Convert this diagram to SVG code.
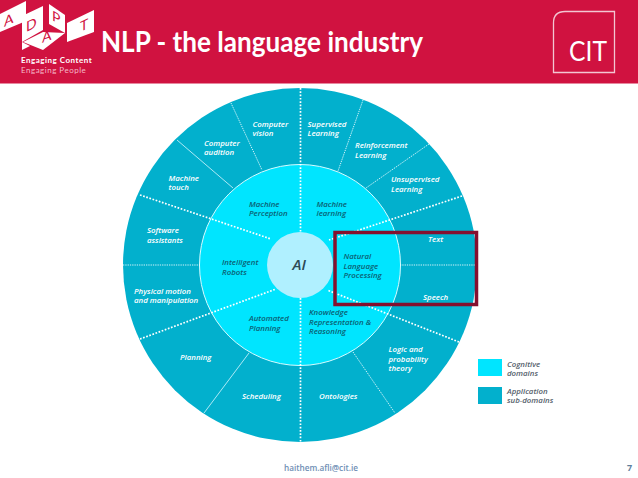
<svg xmlns="http://www.w3.org/2000/svg" width="638" height="478" viewBox="0 0 638 478">
<style>
text{font-family:"Open Sans","Liberation Sans",sans-serif}
.w,.d,.g{font-size:7.85px;font-style:italic;font-weight:600}
.w{fill:#fff}
.d{fill:#0c5f73}
.g{fill:#55606b}
.thick{stroke:#fff;stroke-width:1.7;stroke-dasharray:1.7 1.6;fill:none}
.thin{stroke:#e8fbff;stroke-width:.9;stroke-dasharray:1.3 1;fill:none}
.solid{stroke:#d8f8ff;stroke-width:.8;fill:none}
.logo{fill:#fff}
.lt{fill:#d0123f;font-family:"Lato","Liberation Sans",sans-serif;font-size:14px;font-weight:400}
.lato{font-family:"Lato","Liberation Sans",sans-serif}
</style>
<rect width="638" height="478" fill="#fff"/>
<g id="header">
<rect width="638" height="83.500" fill="#d01240"/>
<polygon class="logo" points="0,14 26,1 26,21 0,32"/>
<polygon class="logo" points="22,16 43,6 43,30 22,42"/>
<polygon class="logo" points="49,4 65,15 65,33 49,24"/>
<polygon class="logo" points="67,23 94,10 94,32 67,42"/>
<polygon class="logo" points="23,42 43,32 65,33 43,50"/>
<polygon class="logo" points="22,42 30,46 22,50"/>
<text class="lt" transform="translate(4,27) skewY(-25)">A</text>
<text class="lt" transform="translate(26,32) skewY(-25)">D</text>
<text class="lt" transform="translate(52,20) skewY(30)">P</text>
<text class="lt" transform="translate(42,43) skewY(-20)" font-size="12">A</text>
<text class="lt" transform="translate(80,32) skewY(-25)">T</text>
<text class="lato" y="63" font-size="8" letter-spacing=".5"><tspan x="21" font-weight="700" fill="#fff">Engaging Content</tspan><tspan x="21" dy="9.500" fill="#f5b9c8">Engaging People</tspan></text>
<text class="lato" x="101" y="52" font-size="28.500" font-weight="700" fill="#fff" textLength="322" lengthAdjust="spacingAndGlyphs">NLP - the language industry</text>
<path d="M553.500,72.500V23Q553.500,11.500 565,11.500H614.500V72.500Z" fill="none" stroke="#f3c6d2" stroke-width="1.300"/>
<text class="lato" x="569" y="61" font-size="26" fill="#fff" textLength="38" lengthAdjust="spacingAndGlyphs">CIT</text>
</g>
<g id="rings">
<circle id="ring-application" cx="300" cy="265" r="177" fill="#02b0cd"/>
<circle id="ring-cognitive" cx="300" cy="265" r="100.500" fill="#00e5ff" stroke="#d8fbff" stroke-width="1"/>
</g>
<g id="connectors">
<path class="thick" d="M300.500,88V232M300.500,298V442"/>
<path class="thick" d="M140,195L271,239M462,196L329,240M140,339L276,289M459,342L327,290"/>
<path class="thin" d="M123,265H200M400,265H476"/>
<path class="thin" d="M231,103L262,170M363,100L338,171M429,144L366,188M353,352L395,413"/>
<path class="solid" d="M177,140L233,188M249,353L204,413"/>
</g>
<g id="node-ai">
<circle cx="300" cy="265" r="33" fill="#b0f0ff"/>
<text x="292.500" y="269.500" font-size="15" font-style="italic" font-weight="600" fill="#2d4a55">AI</text>
</g>
<g id="node-computer-vision"><text class="w" y="126.500"><tspan x="252.500">Computer</tspan><tspan x="252.500" dy="9.500">vision</tspan></text></g>
<g id="node-computer-audition"><text class="w" y="145.500"><tspan x="204">Computer</tspan><tspan x="204" dy="9.500">audition</tspan></text></g>
<g id="node-machine-touch"><text class="w" y="180.500"><tspan x="168.500">Machine</tspan><tspan x="168.500" dy="9.500">touch</tspan></text></g>
<g id="node-software-assistants"><text class="w" y="233"><tspan x="147">Software</tspan><tspan x="147" dy="9.500">assistants</tspan></text></g>
<g id="node-physical-motion"><text class="w" y="293.500"><tspan x="134">Physical motion</tspan><tspan x="134" dy="9.500">and manipulation</tspan></text></g>
<g id="node-planning"><text class="w" x="180" y="359.500">Planning</text></g>
<g id="node-scheduling"><text class="w" x="242" y="398.500">Scheduling</text></g>
<g id="node-ontologies"><text class="w" x="319" y="399">Ontologies</text></g>
<g id="node-logic"><text class="w" y="352"><tspan x="388.500">Logic and</tspan><tspan x="388.500" dy="9.500">probability</tspan><tspan x="388.500" dy="9.500">theory</tspan></text></g>
<g id="node-supervised"><text class="w" y="126.500"><tspan x="307.500">Supervised</tspan><tspan x="307.500" dy="9.500">Learning</tspan></text></g>
<g id="node-reinforcement"><text class="w" y="148"><tspan x="355">Reinforcement</tspan><tspan x="355" dy="9.500">Learning</tspan></text></g>
<g id="node-unsupervised"><text class="w" y="182"><tspan x="391">Unsupervised</tspan><tspan x="391" dy="9.500">Learning</tspan></text></g>
<g id="node-text"><text class="w" x="428" y="242">Text</text></g>
<g id="node-speech"><text class="w" x="423" y="299.500">Speech</text></g>
<g id="node-machine-perception"><text class="d" y="206.500"><tspan x="249">Machine</tspan><tspan x="249" dy="9.500">Perception</tspan></text></g>
<g id="node-machine-learning"><text class="d" y="206.500"><tspan x="316.500">Machine</tspan><tspan x="316.500" dy="9.500">learning</tspan></text></g>
<g id="node-intelligent-robots"><text class="d" y="265"><tspan x="222">Intelligent</tspan><tspan x="222" dy="9.500">Robots</tspan></text></g>
<g id="node-nlp"><text class="d" y="259"><tspan x="343.500">Natural</tspan><tspan x="343.500" dy="9.500">Language</tspan><tspan x="343.500" dy="9.500">Processing</tspan></text></g>
<g id="node-automated-planning"><text class="d" y="321"><tspan x="249">Automated</tspan><tspan x="249" dy="9.500">Planning</tspan></text></g>
<g id="node-knowledge"><text class="d" y="315"><tspan x="309">Knowledge</tspan><tspan x="309" dy="9.500">Representation &amp;</tspan><tspan x="309" dy="9.500">Reasoning</tspan></text></g>
<g id="highlight"><rect x="335" y="232.500" width="141.500" height="72" fill="none" stroke="#84102f" stroke-width="3.500"/></g>
<g id="legend">
<rect x="478" y="359" width="24" height="17" fill="#00e5ff"/>
<text class="g" y="366.500"><tspan x="507">Cognitive</tspan><tspan x="507" dy="9.300">domains</tspan></text>
<rect x="478" y="387" width="24" height="17" fill="#02b0cd"/>
<text class="g" y="394"><tspan x="507">Application</tspan><tspan x="507" dy="9.300">sub-domains</tspan></text>
</g>
<g id="footer">
<text x="284" y="470.500" font-size="8.200" font-weight="600" fill="#6f8fb5">haithem.afli@cit.ie</text>
<text x="627" y="470.500" font-size="9" font-weight="700" fill="#5f7f9c">7</text>
</g>
</svg>
